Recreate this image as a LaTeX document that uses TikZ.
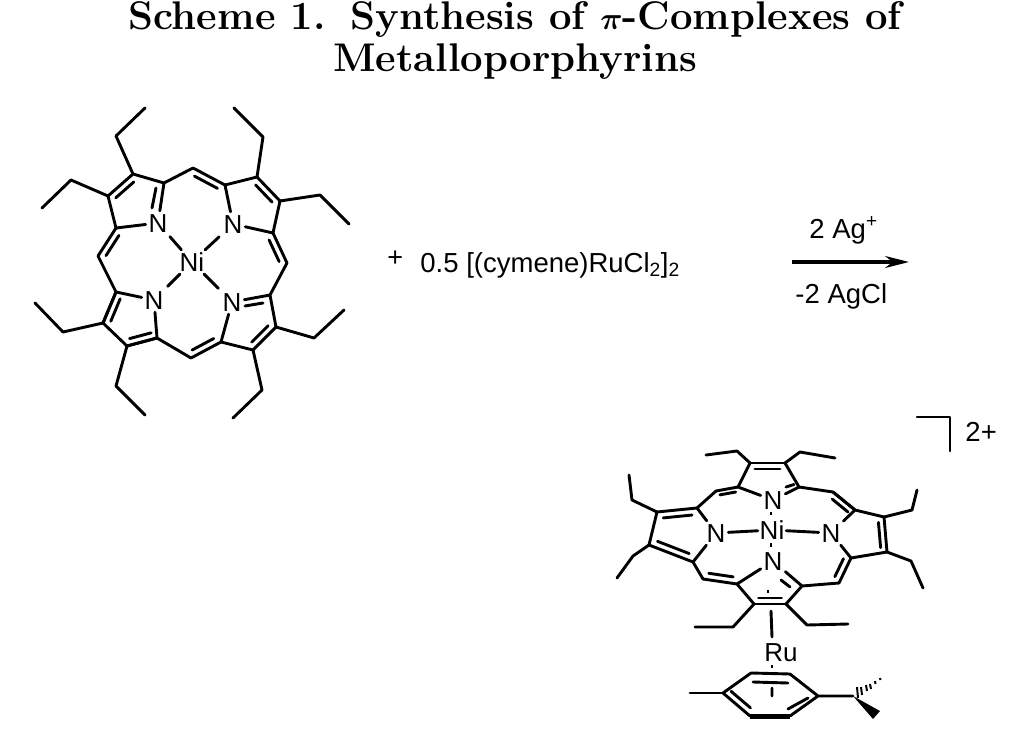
\documentclass[tikz,border=0pt]{standalone}
\usepackage{fontspec}
\usepackage{amsmath}
\newfontfamily\chem{Liberation Sans}
\usetikzlibrary{calc,arrows.meta}
\newcommand\dbl[4][.14]{\draw (#2)--(#3); \draw ($(#2)!#1!(#3)!#4!90:(#3)$) -- ($(#3)!#1!(#2)!#4!-90:(#2)$);}
\newcommand\cset[1]{\foreach \n/\x/\y in {#1}{\coordinate (\n) at (\x,\y);}}
\tikzset{
 x=1pt,y=-1pt,
 bond/.style={line width=2.9pt,line cap=round,line join=round,black},
 atom/.style={font=\chem\fontsize{26}{26}\selectfont,inner sep=1.5pt,text height=18.5pt,text depth=0pt},
 lab/.style={font=\chem\fontsize{27.5}{27.5}\selectfont,inner sep=0pt,anchor=base west},
 ttl/.style={font=\fontsize{40}{40}\selectfont\bfseries\addfontfeature{FakeBold=0.6},inner sep=0pt,anchor=base},
}
\begin{document}
\begin{tikzpicture}[every path/.append style={bond}]
\useasboundingbox (0,0) rectangle (1011,746);
\node[ttl] (t1) at (515,30) {Scheme 1.\enspace\hspace{5pt}Synthesis of \scalebox{1.25}{\boldmath$\pi$}-Complexes of};
\node[ttl] (t2) at (515,71.5) {Metalloporphyrins};
% left molecule
\node[atom] (Na) at (158,223) {N};
\node[atom] (Nb) at (233,224) {N};
\node[atom] (Nc) at (232,302) {N};
\node[atom] (Nd) at (154,300) {N};
\node[atom] (Ni1) at (192,262) {Ni};
\cset{a1/133/174,a2/108/196,a3/116/228,a4/164/183,m1/193/168,b1/225/185,b2/257/177,b3/280/201,b4/273/233,m2/287/263,c1/270/295,c2/276/327,c3/253/350,c4/221/342,m3/191/358,d1/157/338,d2/127/346,d3/103/323,d4/116/292,m4/98/256}
\draw (145,108)--(116,136)--(a1);
\draw (42,208)--(71,180)--(a2);
\draw (234,108)--(263,137)--(b2);
\draw (349,224)--(320,195)--(b3);
\draw (344,310)--(314,338)--(c2);
\draw (233,418)--(262,390)--(c3);
\draw (145,415)--(116,386)--(d2);
\draw (35,303)--(63,332)--(d3);
\dbl{a1}{a2}{6.5pt}
\draw (a2)--(a3) (a1)--(a4) (a4)--(m1);
\draw (a3)--(Na) (a4)--(Na);
\draw (152,208)--(156,188);
\dbl{a3}{m4}{6.5pt}
\dbl{m1}{b1}{-6.5pt}
\draw (b1)--(b2) (b3)--(b4) (b1)--(Nb) (b4)--(Nb);
\dbl{b2}{b3}{-6.5pt}
\dbl{b4}{m2}{-6.5pt}
\draw (m2)--(c1) (c1)--(c2) (c3)--(c4);
\draw (c1)--(Nc);
\draw (245,306)--(263,303);
\draw (c4)--(Nc);
\dbl{c2}{c3}{-6.5pt}
\dbl{c4}{m3}{-6.5pt}
\draw (m3)--(d1) (d1)--(d2) (d2)--(d3) (d3)--(d4) (d4)--(m4);
\draw (d1)--(Nd) (d4)--(Nd);
\dbl{d1}{d2}{-6.5pt}
\dbl{d3}{d4}{-6.5pt}
\draw[shorten >=2pt] (Ni1)--(Na);
\draw[shorten >=2pt] (Ni1)--(Nb);
\draw[shorten >=2pt] (Ni1)--(Nc);
\draw[shorten >=2pt] (Ni1)--(Nd);
% reagent
\node[lab] (plus) at (386,266) {\fontsize{27}{27}\selectfont +};
\node[lab] (reag) at (419,272) {0.5 [(cymene)RuCl\textsubscript{2}]\textsubscript{2}};
\node[lab] (ag) at (808,238) {2 Ag\raisebox{11pt}{\fontsize{19}{19}\selectfont +}};
\node[lab] (agcl) at (794,303) {-2 AgCl};
\coordinate (ar1) at (792,262);
\coordinate (ar2) at (909,262);
\draw[line width=3.2pt,line cap=butt,-{Stealth[length=24pt,width=12pt]}] (ar1)--(ar2);
% right molecule
\node[atom] (Nt) at (773,500) {N};
\node[atom] (Nl) at (716,533) {N};
\node[atom] (Nr) at (831,533) {N};
\node[atom] (Nu) at (773,561) {N};
\node[atom] (Ni2) at (772,530) {Ni};
\cset{p1/750/463,p2/785/463,p3/799/487,p4/738/487,q0/716/491,r1/697/508,r2/657/512,r3/649/545,r4/693/562,u0/703/579,s1/737/584,s2/754/604,s3/786/604,s4/802/586,v0/839/583,t1/851/558,t2/887/552,t3/884/517,t4/855/510,w0/833/492}
\draw (706,455)--(737,451)--(p1);
\draw (835,458)--(800,452)--(p2);
\draw (629,475)--(632,500)--(r2);
\draw (617,578)--(633,556)--(r3);
\draw (917,490)--(912,510)--(t3);
\draw (923,588)--(911,561)--(t2);
\draw (695,627)--(733,627)--(s2);
\draw (848,624)--(807,625)--(s3);
\dbl{p1}{p2}{-6pt}
\draw (p2)--(p3) (p1)--(p4) (p4)--(Nt) (p3)--(Nt);
\draw (786,487)--(794,484.5);
\dbl{q0}{p4}{-4.5pt}
\draw (q0)--(r1) (r1)--(Nl) (r4)--(Nl) (r2)--(r3);
\dbl{r2}{r1}{-6.5pt}
\dbl{r3}{r4}{6.5pt}
\dbl{u0}{s1}{6.5pt}
\draw (r4)--(u0) (s1)--(Nu) (s1)--(s2) (s3)--(s4) (s4)--(v0);
\dbl{s2}{s3}{6pt}
\draw (Nu)--(s4);
\draw (781,580)--(790,587);
\dbl{v0}{t1}{6.5pt}
\draw (t1)--(t2) (t3)--(t4) (t1)--(Nr) (t4)--(Nr) (t4)--(w0) (w0)--(p3);
\dbl{t3}{t2}{-6pt}
\dbl{w0}{t4}{-6pt}
\draw[shorten <=-1pt] (Ni2)--(Nl);
\draw[shorten <=-1pt] (Ni2)--(Nr);
\draw[line width=2pt,line cap=butt] (771,512)--(771,515) (771,543)--(771,547) (768,590)--(768,593);
\node[atom] (Ru) at (781,652) {Ru};
\coordinate (ru1) at (771,611);
\draw (ru1)--(772,637);
\draw[line cap=butt] (772,665)--(772,668);
\cset{h1/723/693,h2/751/673,h3/790/674,h4/818/696,h5/790/716,h6/750/716,ip/853/696}
\draw (690,693)--(h1);
\dbl{h1}{h6}{6.5pt}
\draw (h1)--(h2) (h3)--(h4) (h4)--(ip) (h5)--(h4);
\draw (h2)--(h3);
\draw (753,682)--(788,683) (772,688)--(772,696);
\draw (808,698)--(788,709);
\draw[line width=5pt,line cap=butt] (h6)--(h5);
\fill (ip)--(873,719)--(880,711)--cycle;
\draw[line width=2pt,line cap=butt] (857,687)--(858,698) (861,687)--(862,695) (866,685)--(867,691) (870,684)--(871,689) (875,681)--(875.5,684) (880,678)--(880.5,680);
\draw[line width=2.5pt] (917,417)--(950,417)--(950,451);
\node[lab] (chg) at (964,441) {2+};
\end{tikzpicture}
\end{document}
